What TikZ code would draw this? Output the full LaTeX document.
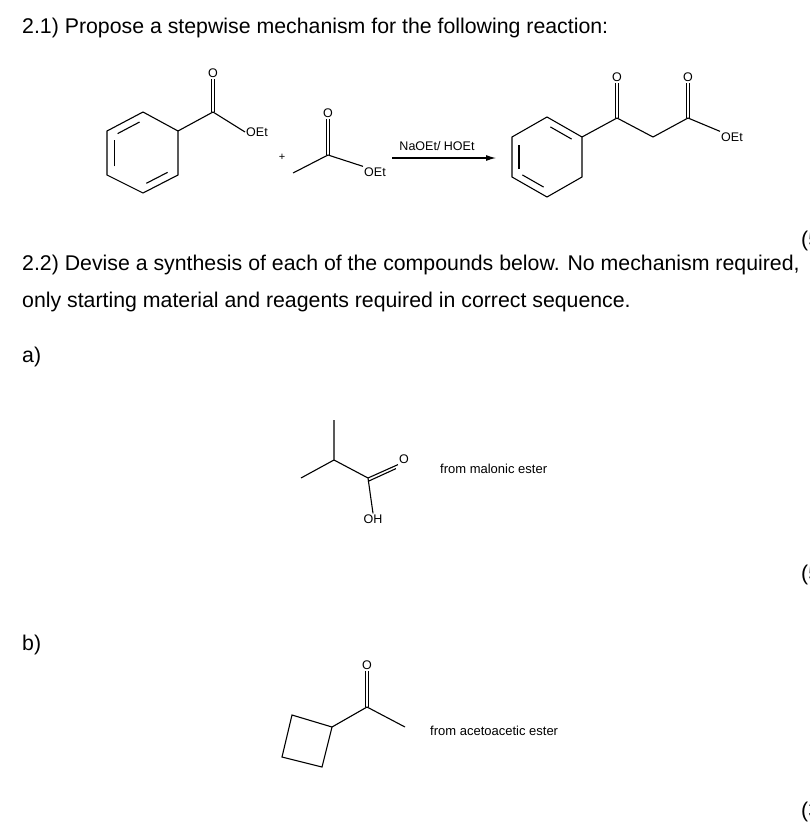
\documentclass[tikz,border=0pt]{standalone}
\usepackage{fontspec}
\setmainfont{Liberation Sans}
\usetikzlibrary{arrows.meta,calc}
\begin{document}
\begin{tikzpicture}[x=1pt,y=-1pt,
  bond/.style={line width=1.1pt},
  big/.style={anchor=west,inner sep=0,font=\fontsize{21.3}{24}\selectfont},
  lab/.style={inner sep=1pt,fill=white,font=\fontsize{12.5}{14}\selectfont},
  note/.style={anchor=west,inner sep=0,font=\fontsize{13}{15}\selectfont}]
\newcommand\innerbond[3]{\draw[bond] ($(#1)!0.8!($(#2)!0.12!(#3)$)$)--($(#1)!0.8!($(#3)!0.12!(#2)$)$);}
\useasboundingbox (0,0) rectangle (809,822);
\node[big] (t1) at (22,28) {2.1) Propose a stepwise mechanism for the following reaction:};
\node[big] (t2) at (22,265) {2.2) Devise a synthesis of each of the compounds below. No mechanism required,};
\node[big] (t3) at (22,302) {only starting material and reagents required in correct sequence.};
\node[big] (ta) at (22,357) {a)};
\node[big] (tb) at (22,645) {b)};
\node[big] (p1) at (801,241) {(5};
\node[big] (p2) at (801,575) {(5};
\node[big] (p3) at (801,812) {(3};
% benzene 1
\coordinate (z1) at (143,153);
\coordinate (b1) at (143,112); \coordinate (b2) at (178,131); \coordinate (b3) at (178,175);
\coordinate (b4) at (143,193); \coordinate (b5) at (107,175); \coordinate (b6) at (107,131);
\draw[bond] (b1)--(b2)--(b3)--(b4)--(b5)--(b6)--cycle;
\innerbond{z1}{b5}{b6} \innerbond{z1}{b6}{b1} \innerbond{z1}{b3}{b4}
\coordinate (c1) at (213,112);
\node[lab] (o1) at (213,73) {O};
\node[lab] (e1) at (257,132) {OEt};
\draw[bond] (b2)--(c1)--(e1.west);
\draw[bond] ([xshift=-1.8]c1)--([xshift=-1.8]o1.south) ([xshift=1.8]c1)--([xshift=1.8]o1.south);
\node[font=\fontsize{11}{12}\selectfont] (plus) at (282,157) {+};
% ethyl acetate
\coordinate (m2) at (293,173); \coordinate (c2) at (328,155);
\node[lab] (o2) at (328,113) {O};
\node[lab] (e2) at (375,172) {OEt};
\draw[bond] (m2)--(c2)--(e2.north west);
\draw[bond] ([xshift=-1.8]c2)--([xshift=-1.8]o2.south) ([xshift=1.8]c2)--([xshift=1.8]o2.south);
% arrow
\coordinate (a1) at (392,158); \coordinate (a2) at (496,158);
\draw[bond,-{Latex[length=10pt,width=6pt]}] (a1)--(a2);
\node[lab,fill=none] (cond) at (437,146) {NaOEt/ HOEt};
% product
\coordinate (z2) at (547,157);
\coordinate (d1) at (547,117); \coordinate (d2) at (582,137); \coordinate (d3) at (582,177);
\coordinate (d4) at (547,197); \coordinate (d5) at (512,177); \coordinate (d6) at (512,137);
\draw[bond] (d1)--(d2)--(d3)--(d4)--(d5)--(d6)--cycle;
\innerbond{z2}{d5}{d6} \innerbond{z2}{d1}{d2} \innerbond{z2}{d4}{d5}
\coordinate (c3) at (617,118); \coordinate (ch) at (653,137); \coordinate (c4) at (688,118);
\node[lab] (o3) at (617,77) {O};
\node[lab] (o4) at (688,77) {O};
\node[lab] (e3) at (732,137) {OEt};
\draw[bond] (d2)--(c3)--(ch)--(c4)--(e3.north west);
\draw[bond] ([xshift=-1.8]c3)--([xshift=-1.8]o3.south) ([xshift=1.8]c3)--([xshift=1.8]o3.south);
\draw[bond] ([xshift=-1.8]c4)--([xshift=-1.8]o4.south) ([xshift=1.8]c4)--([xshift=1.8]o4.south);
% a) isobutyric acid
\coordinate (q1) at (334,420); \coordinate (q2) at (334,460); \coordinate (q3) at (301,478); \coordinate (q4) at (368,478);
\node[lab] (o5) at (404,459) {O};
\node[lab] (oh) at (373,519) {OH};
\draw[bond] (q1)--(q2)--(q3) (q2)--(q4)--(oh.north);
\draw[bond] (q4)--(o5.south west) ([yshift=-3.4]q4)--([xshift=-2,yshift=-4]o5.south west);
\node[note] (n1) at (440,469) {from malonic ester};
% b)
\draw[bond] (292,715)--(332,727)--(322,767)--(282,757)--cycle;
\coordinate (k1) at (367,707); \coordinate (k2) at (405,727);
\node[lab] (o6) at (367,665) {O};
\draw[bond] (332,727)--(k1)--(k2);
\draw[bond] ([xshift=-1.8]k1)--([xshift=-1.8]o6.south) ([xshift=1.8]k1)--([xshift=1.8]o6.south);
\node[note] (n2) at (430,731) {from acetoacetic ester};
\end{tikzpicture}
\end{document}
